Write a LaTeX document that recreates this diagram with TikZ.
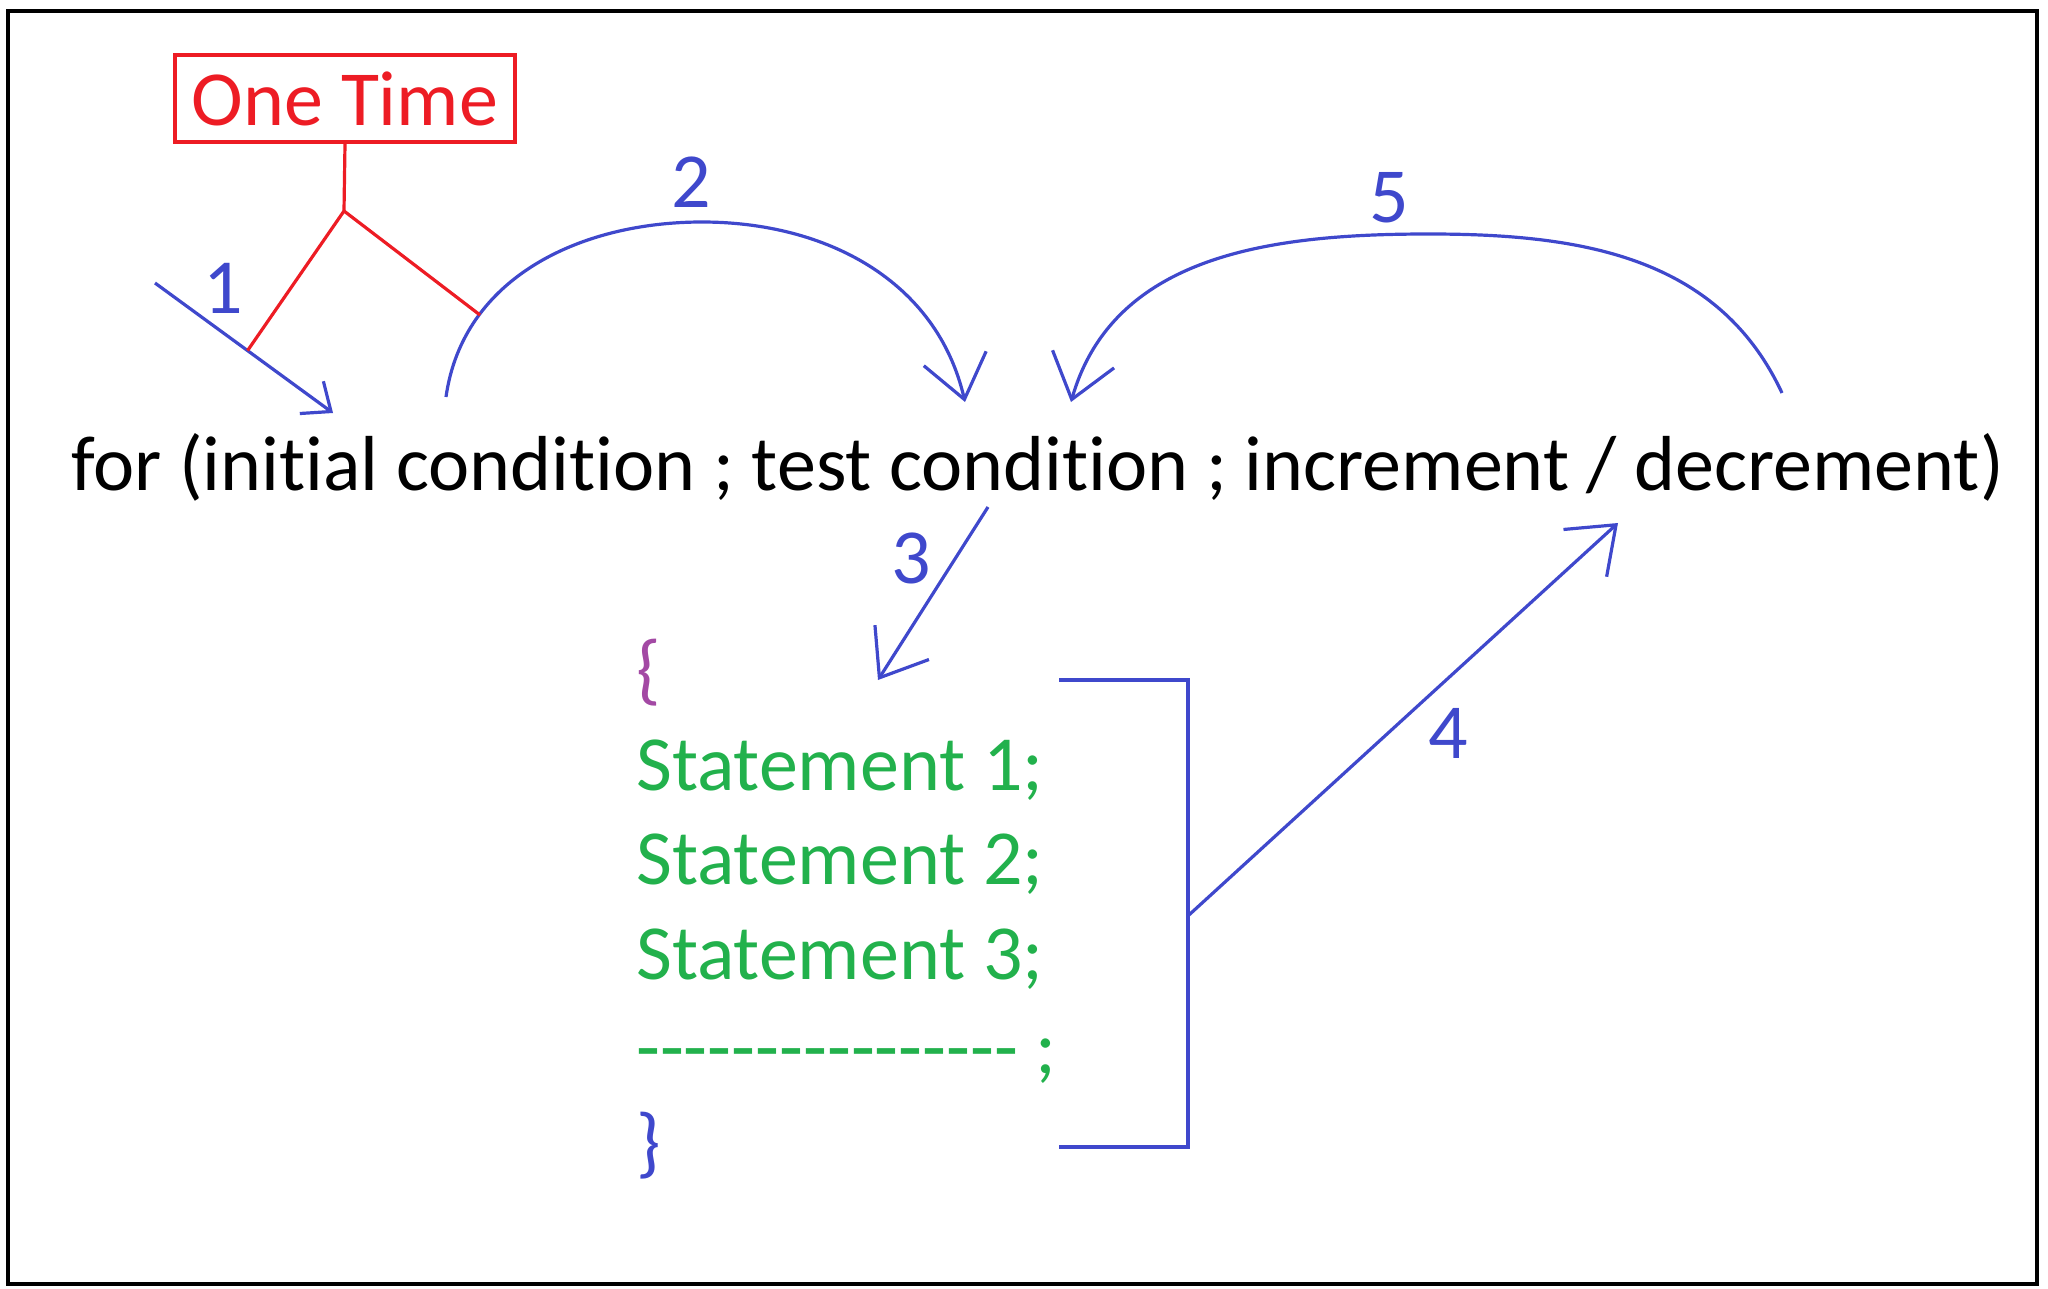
\documentclass[tikz,border=0pt]{standalone}
\usepackage{fontspec}
\setmainfont{Carlito}[Ligatures={TeXOff,CommonOff}]
\usetikzlibrary{calc}
\usetikzlibrary{positioning,arrows.meta}

\definecolor{paintblue}{RGB}{63,72,204}
\definecolor{paintred}{RGB}{237,28,36}
\definecolor{paintgreen}{RGB}{34,177,76}
\definecolor{paintpurple}{RGB}{163,73,164}

\begin{document}
\begin{tikzpicture}[x=1pt, y=-1pt,
    txt/.style={inner sep=0pt, font=\fontsize{78}{94.5}\selectfont},
    flow/.style={draw=paintblue, line width=3.2pt, -{Straight Barb[length=42pt,width=64pt]}},
    flowsmall/.style={draw=paintblue, line width=3.2pt, -{Straight Barb[length=24pt,width=40pt]}},
    onetime/.style={draw=paintred, line width=3.2pt}]
        \useasboundingbox (0,0) rectangle (2048,1289);
        %% Frame
        \draw[line width=4pt] (8,11) rectangle (2036.5,1284);

        %% Loop header
        \node[txt, anchor=base west] (hdr) at (71,490) {for (initial condition ; test condition ; increment / decrement)};

        %% One time marker
        \node[txt, draw=paintred, line width=3.5pt, text=paintred, minimum width=340pt, minimum height=87pt] (OT) at (345,98.5) {One Time};

        %% Step 1: initial condition
        \coordinate (a1s) at (155,283);
        \coordinate (a1e) at (333,413);
        \draw[flowsmall] (a1s) -- coordinate[pos=0.52] (a1m) (a1e);
        \node[txt, text=paintblue] (n1) at (223,288) {1};

        %% Step 2: to test condition
        \coordinate (a2s) at (446,397);
        \coordinate (a2t) at (702,222);
        \coordinate (a2e) at (965,402);
        \coordinate (a2m) at (480,315);
        \draw[flow] (a2s) to[out=82,in=180] (a2t) to[out=0,in=103] (a2e);
        \node[txt, text=paintblue] (n2) at (691,182) {2};

        %% One time connectors
        \coordinate (rb) at (344,211);
        \draw[onetime] (OT.south) -- (rb) -- (a1m);
        \draw[onetime] (rb) -- (a2m);

        %% Loop body
        \node[txt, anchor=base west, text=paintpurple] (ob) at (636,695.5) {\{};
        \node[txt, anchor=base west, text=paintgreen] (st1) at (636,790) {Statement 1;};
        \node[txt, anchor=base west, text=paintgreen] (st2) at (636,884.5) {Statement 2;};
        \node[txt, anchor=base west, text=paintgreen] (st3) at (636,979) {Statement 3;};
        \node[txt, anchor=base west, text=paintgreen] (st4) at (636,1073.5) {---------------- ;};
        \node[txt, anchor=base west, text=paintblue] (cb) at (636,1168) {\}};

        %% Step 3: into the body
        \coordinate (a3s) at (988,507);
        \coordinate (a3e) at (878,680);
        \draw[flow] (a3s) -- (a3e);
        \node[txt, text=paintblue] (n3) at (911,558) {3};

        %% Step 4: body to increment
        \draw[paintblue, line width=3.2pt] (1059,680) -- (1188,680) -- coordinate[pos=0.505] (brm) (1188,1147) -- (1059,1147);
        \coordinate (a4e) at (1618,523);
        \draw[flow] (brm) -- (a4e);
        \node[txt, text=paintblue] (n4) at (1448,733) {4};

        %% Step 5: back to test condition
        \coordinate (a5s) at (1782,393);
        \coordinate (a5t) at (1429,234);
        \coordinate (a5e) at (1071,402);
        \draw[flow] (a5s) to[out=115,in=0] (a5t) to[out=180,in=74] (a5e);
        \node[txt, text=paintblue] (n5) at (1389,198) {5};
\end{tikzpicture}
\end{document}
